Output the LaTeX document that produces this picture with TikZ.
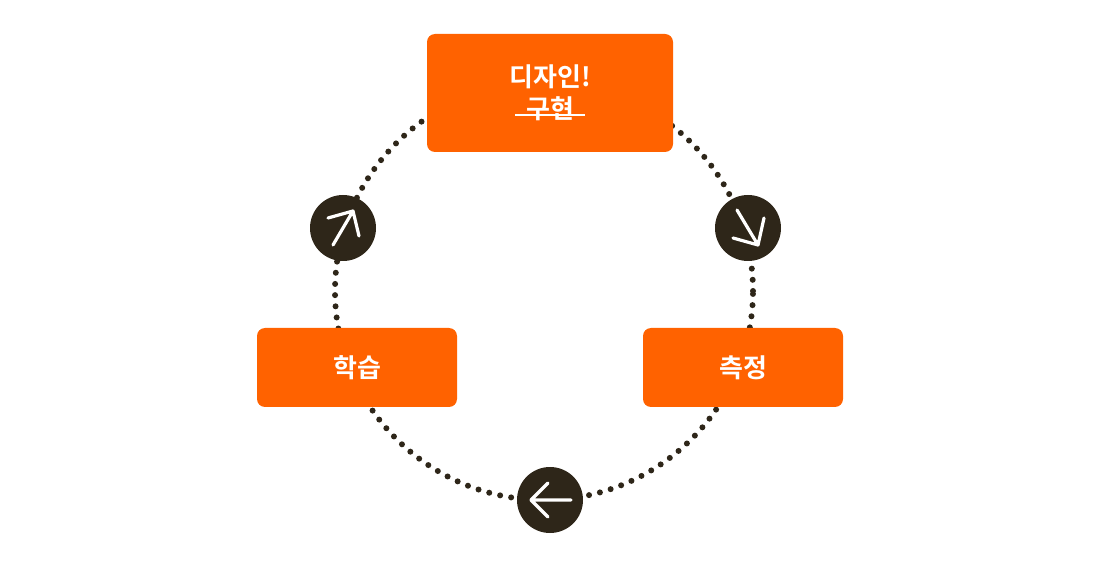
\documentclass[tikz,border=0pt]{standalone}
\usepackage{fontspec}
\newfontfamily\kr{Noto Sans CJK KR Bold}
\definecolor{org}{HTML}{FF6200}
\definecolor{drk}{HTML}{2E2619}
\tikzset{
 box/.style={fill=org,rounded corners=4pt,text=white,font=\kr\fontsize{13pt}{16pt}\selectfont,align=center,inner sep=0pt},
 badge/.style={circle,fill=drk,minimum size=33pt,inner sep=0pt},
 arr/.style={white,line width=1.6pt,line cap=round,line join=round}
}
\begin{document}
\begin{tikzpicture}[x=0.5pt,y=-0.5pt]
\useasboundingbox (0,0) rectangle (1100,567);
\coordinate (c) at (544,291);
\draw[drk,line width=3pt,line cap=round,dash pattern=on 0pt off 5.6pt] (c) circle[radius=104.5pt];
\node[box,minimum width=123pt,minimum height=59pt] (top) at (550,93) {디자인!\\구현};
\draw[white,line width=0.8pt] (515,115) -- (585,115);
\node[box,minimum width=100pt,minimum height=39.5pt] (learn) at (357,367.5) {학습};
\node[box,minimum width=100pt,minimum height=39.5pt] (meas) at (743,367.5) {측정};
\node[badge] (b1) at (343,228) {};
\node[badge] (b2) at (748,228) {};
\node[badge] (b3) at (550,500) {};
\draw[arr] (333,245) -- (353,211) (328,218) -- (353,211) -- (359,236);
\draw[arr] (737,210) -- (758,245) (733,238) -- (758,245) -- (764,218);
\draw[arr] (571,500) -- (531,500) (548,483) -- (531,500) -- (548,517);
\end{tikzpicture}
\end{document}
